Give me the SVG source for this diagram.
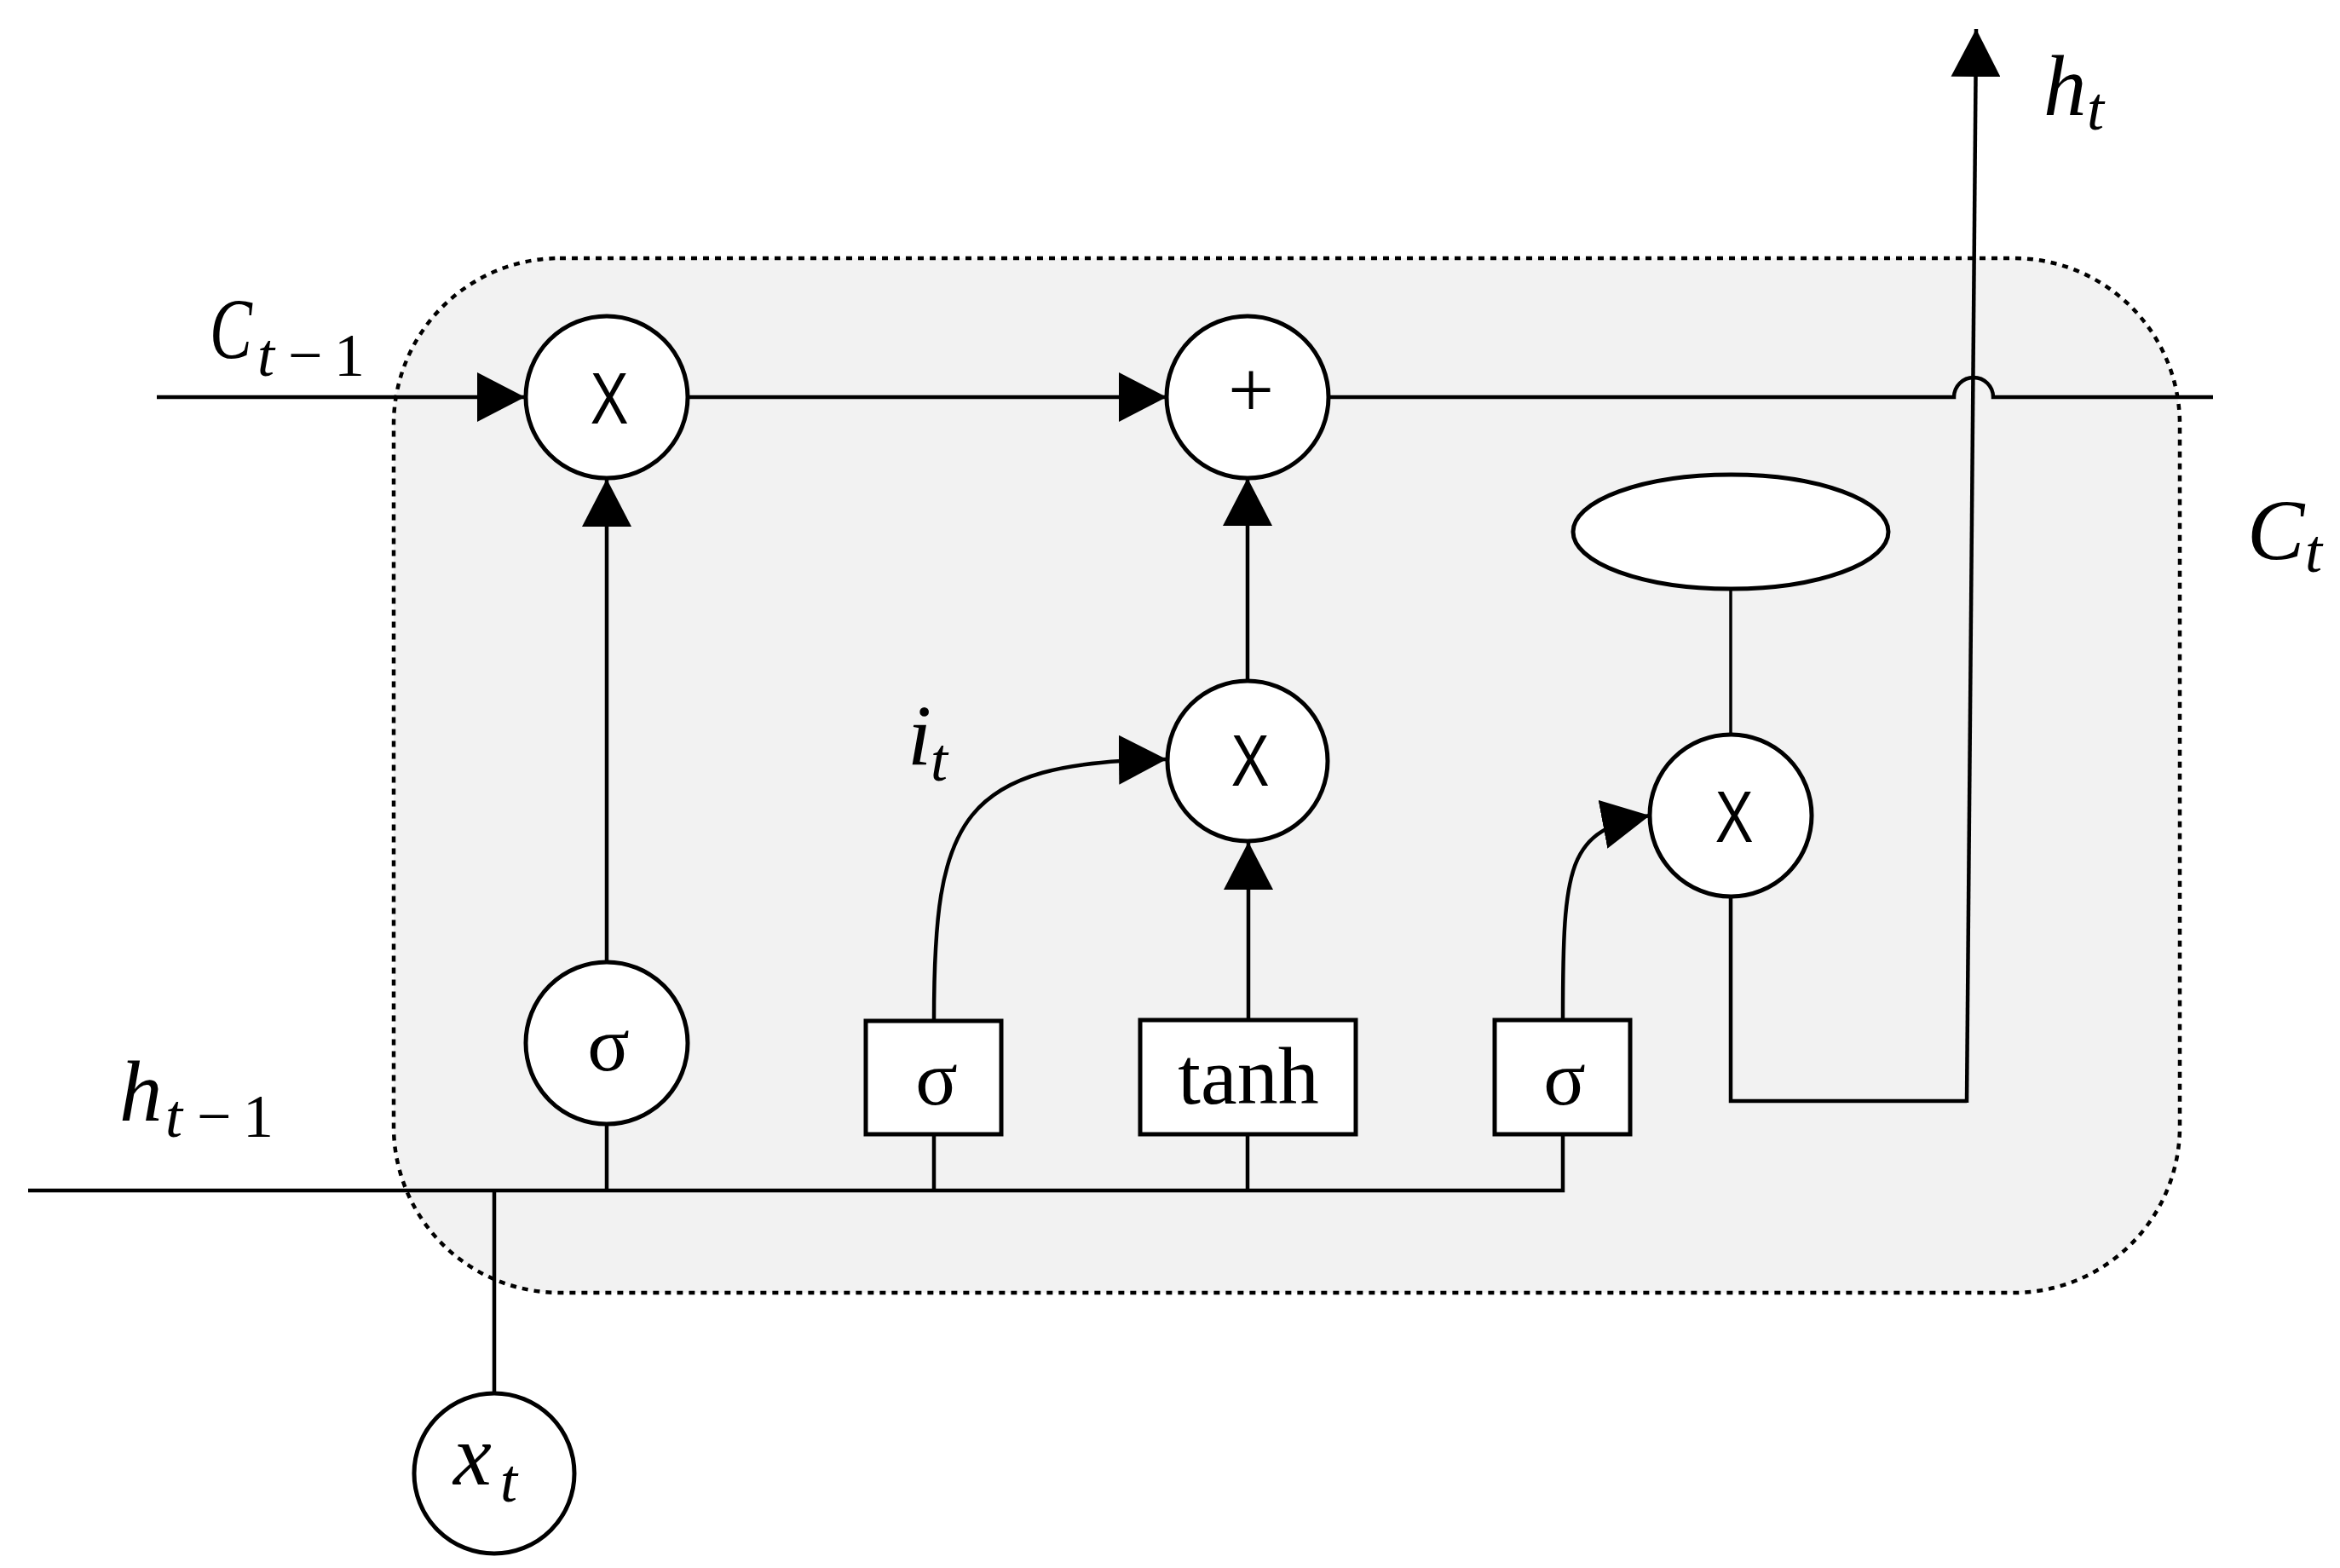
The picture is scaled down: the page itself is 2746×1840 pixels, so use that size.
<svg xmlns="http://www.w3.org/2000/svg" width="2746" height="1840" viewBox="0 0 2746 1840">
<style>
.ln{fill:none;stroke:#000;stroke-width:4.5}
.thin{fill:none;stroke:#000;stroke-width:3.5}
.nd{fill:#fff;stroke:#000;stroke-width:5}
.op{font-family:"Liberation Sans",Arial,sans-serif;font-size:86px;text-anchor:middle;fill:#000}
.sr{font-family:"Liberation Serif","Times New Roman",serif;fill:#000;text-anchor:middle}
.m{font-family:"Liberation Serif","Times New Roman",serif;font-style:italic;font-size:101px;fill:#000}
.sub{font-size:72px}
.up{font-style:normal}
</style>
<defs>
<marker id="arr" markerUnits="userSpaceOnUse" viewBox="0 0 56 58" refX="56" refY="29" markerWidth="56" markerHeight="58" orient="auto">
<path d="M0,0 L56,29 L0,58 Z" fill="#000"/>
</marker>
</defs>
<rect width="2746" height="1840" fill="#fff"/>
<g id="cell">
<rect x="462" y="303" width="2096" height="1214" rx="195" ry="195" fill="#f2f2f2" stroke="#000" stroke-width="4.5" stroke-dasharray="7,7"/>
</g>
<g id="connectors">
<path class="ln" d="M184,466 H616" marker-end="url(#arr)"/>
<path class="ln" d="M807,466 H1369" marker-end="url(#arr)"/>
<path class="ln" d="M1559,466 H2293 A23,23 0 0 1 2339,466 H2597"/>
<path class="ln" d="M712,1129 V562" marker-end="url(#arr)"/>
<path class="ln" d="M1464,798 V561" marker-end="url(#arr)"/>
<path class="ln" d="M1465,1197 V988" marker-end="url(#arr)"/>
<path class="ln" d="M1096,1198 C1096,960 1125,894 1369,891" marker-end="url(#arr)"/>
<path class="ln" d="M1834,1197 C1834,1010 1840,975 1936,957" marker-end="url(#arr)"/>
<path class="ln" d="M33,1397 H1834 V1331"/>
<path class="ln" d="M580,1397 V1635"/>
<path class="ln" d="M712,1397 V1319"/>
<path class="ln" d="M1096,1397 V1331"/>
<path class="ln" d="M1464,1397 V1331"/>
<path class="thin" d="M2031,691 V862"/>
<path class="ln" d="M2031,1053 V1292 H2308"/>
<path class="ln" d="M2308,1294 L2319,34" marker-end="url(#arr)"/>
</g>
<g id="forget-mul">
<circle class="nd" cx="712" cy="466" r="95"/>
<text class="op" transform="translate(715,497) scale(0.78,1)">X</text>
</g>
<g id="add">
<circle class="nd" cx="1464" cy="466" r="95"/>
<text class="sr" x="1468" y="489" font-size="96">+</text>
</g>
<g id="input-mul">
<circle class="nd" cx="1464" cy="893" r="94"/>
<text class="op" transform="translate(1467,922) scale(0.78,1)">X</text>
</g>
<g id="output-mul">
<circle class="nd" cx="2031" cy="957" r="95"/>
<text class="op" transform="translate(2035,988) scale(0.78,1)">X</text>
</g>
<g id="output-tanh">
<ellipse class="nd" cx="2031" cy="624" rx="185" ry="67"/>
</g>
<g id="forget-gate">
<circle class="nd" cx="712" cy="1224" r="95"/>
<text class="sr" x="714" y="1256" font-size="92">σ</text>
</g>
<g id="input-gate">
<rect class="nd" x="1016" y="1198" width="159" height="133"/>
<text class="sr" x="1099" y="1296" font-size="92">σ</text>
</g>
<g id="candidate">
<rect class="nd" x="1338" y="1197" width="253" height="134"/>
<text class="sr" x="1465" y="1295" font-size="96">tanh</text>
</g>
<g id="output-gate">
<rect class="nd" x="1754" y="1197" width="159" height="134"/>
<text class="sr" x="1836" y="1296" font-size="92">σ</text>
</g>
<g id="input-x">
<circle class="nd" cx="580" cy="1729" r="94"/>
<text class="m" x="532" y="1742" font-size="105">x<tspan class="sub" x="587" y="1762">t</tspan></text>
</g>
<g id="labels">
<text class="m" transform="translate(246,421) scale(0.74,1)">C</text>
<text class="m sub" y="441"><tspan x="302">t</tspan><tspan class="up" x="338">−</tspan><tspan class="up" x="392">1</tspan></text>
<text class="m" x="140" y="1315">h<tspan class="sub" x="194" y="1334">t</tspan><tspan class="sub up" x="231">−</tspan><tspan class="sub up" x="285">1</tspan></text>
<text class="m" x="1065" y="898">i<tspan class="sub" x="1092" y="916">t</tspan></text>
<text class="m" x="2398" y="135" font-size="98">h<tspan class="sub" x="2449" y="152">t</tspan></text>
<text class="m" x="2637" y="657">C<tspan class="sub" x="2705" y="671">t</tspan></text>
</g>
</svg>
